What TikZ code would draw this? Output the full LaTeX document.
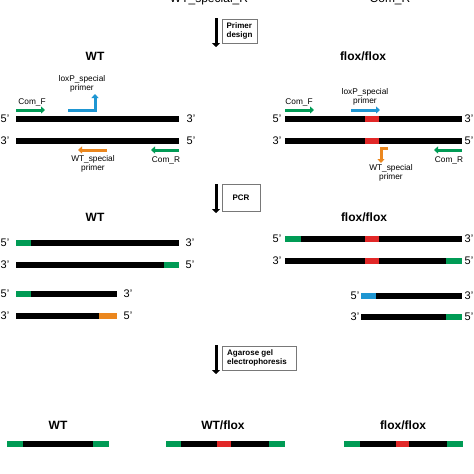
\documentclass[tikz,border=0pt]{standalone}
\usepackage{fontspec}
\setmainfont{Liberation Sans}
\usetikzlibrary{arrows.meta}
\definecolor{pgreen}{RGB}{0,155,85}
\definecolor{pred}{RGB}{225,40,40}
\definecolor{pblue}{RGB}{30,150,210}
\definecolor{porange}{RGB}{235,135,30}
\definecolor{boxgray}{RGB}{120,120,120}
\tikzset{
  bar/.style={line width=6pt, black},
  seg/.style={line width=6pt, #1},
  primer/.style={line width=3pt, #1, -{Triangle[length=4pt,width=7pt]}},
  primerL/.style={line width=3pt, #1, -{Triangle[length=4pt,width=7pt]}, rounded corners=0pt},
  end/.style={font=\fontsize{11}{12}\selectfont, inner sep=0pt},
  lab/.style={font=\fontsize{8.3}{8.8}\selectfont, inner sep=0pt, align=center},
  title/.style={font=\fontsize{12}{13}\selectfont\bfseries, inner sep=0pt},
  stepbox/.style={draw=boxgray, line width=0.8pt, font=\fontsize{8}{9}\selectfont\bfseries, align=left, inner sep=0pt, anchor=north west},
  procarrow/.style={line width=3pt, black, -{Triangle[length=4pt,width=8pt]}},
  cut/.style={font=\fontsize{12}{13}\selectfont, inner sep=0pt, anchor=base}
}
\begin{document}
\begin{tikzpicture}[x=1pt,y=-1pt]
\useasboundingbox (0,0) rectangle (474,474);
\fill[white] (0,0) rectangle (474,474);
% cut off top labels
\node[cut] (cutA) at (209,2.5) {WT\_special\_R};
\node[cut] (cutB) at (390,2.5) {Com\_R};
% ===== Primer design step =====
\coordinate (pa1) at (216,18); \coordinate (pa2) at (216,47);
\draw[procarrow] (pa1) -- (pa2);
\draw[boxgray, line width=0.8pt] (222,19) rectangle (257,43);
\node[font=\fontsize{8}{9}\selectfont\bfseries, align=left, inner sep=0pt] (pdtext) at (239.5,31) {Primer\\design};
% titles
\node[title] (t1) at (95,56) {WT};
\node[title] (t2) at (363,56) {flox/flox};
% ---- WT template
\coordinate (w1a) at (16,119); \coordinate (w1b) at (179,119);
\coordinate (w2a) at (16,141); \coordinate (w2b) at (179,141);
\draw[bar] (w1a) -- (w1b);
\draw[bar] (w2a) -- (w2b);
\node[end] (e1) at (5,119) {5'};
\node[end] (e2) at (191,119) {3'};
\node[end] (e3) at (5,141) {3'};
\node[end] (e4) at (191,141) {5'};
\coordinate (cf1) at (16,110); \coordinate (cf2) at (45,110);
\draw[primer=pgreen] (cf1) -- (cf2);
\coordinate (lp1) at (68,110); \coordinate (lp2) at (95,110); \coordinate (lp3) at (95,94);
\draw[primer=pblue] (lp1) -- (lp2) -- (lp3);
\coordinate (wp1) at (107,150); \coordinate (wp2) at (78,150);
\draw[primer=porange] (wp1) -- (wp2);
\coordinate (cr1) at (179,150); \coordinate (cr2) at (151,150);
\draw[primer=pgreen] (cr1) -- (cr2);
\node[lab] (l1) at (32,102) {Com\_F};
\node[lab] (l2) at (82,84) {loxP\_special\\primer};
\node[lab] (l3) at (93,164) {WT\_special\\primer};
\node[lab] (l4) at (166,160) {Com\_R};
% ---- flox template
\coordinate (f1a) at (285,119); \coordinate (f1b) at (462,119);
\coordinate (f2a) at (285,141); \coordinate (f2b) at (462,141);
\draw[bar] (f1a) -- (f1b);
\draw[bar] (f2a) -- (f2b);
\draw[seg=pred] (365,119) -- (379,119);
\draw[seg=pred] (365,141) -- (379,141);
\node[end] (e5) at (277,119) {5'};
\node[end] (e6) at (469,119) {3'};
\node[end] (e7) at (277,141) {3'};
\node[end] (e8) at (469,141) {5'};
\coordinate (fcf1) at (285,110); \coordinate (fcf2) at (314,110);
\draw[primer=pgreen] (fcf1) -- (fcf2);
\coordinate (flp1) at (351,110); \coordinate (flp2) at (380,110);
\draw[primer=pblue] (flp1) -- (flp2);
\coordinate (fwp1) at (388,148); \coordinate (fwp2) at (381,148); \coordinate (fwp3) at (381,163);
\draw[primer=porange] (fwp1) -- (fwp2) -- (fwp3);
\coordinate (fcr1) at (462,150); \coordinate (fcr2) at (434,150);
\draw[primer=pgreen] (fcr1) -- (fcr2);
\node[lab] (l5) at (299,102) {Com\_F};
\node[lab] (l6) at (365,97) {loxP\_special\\primer};
\node[lab] (l7) at (391,173) {WT\_special\\primer};
\node[lab] (l8) at (449,160) {Com\_R};
% ===== PCR step =====
\coordinate (pb1) at (216,184); \coordinate (pb2) at (216,213);
\draw[procarrow] (pb1) -- (pb2);
\draw[boxgray, line width=0.8pt] (222,184) rectangle (260,211);
\node[font=\fontsize{8}{9}\selectfont\bfseries, inner sep=0pt] (pcrtext) at (241,197.5) {PCR};
\node[title] (t3) at (95,217) {WT};
\node[title] (t4) at (364,217) {flox/flox};
% WT products
\draw[bar] (16,243) -- (179,243); \draw[seg=pgreen] (16,243) -- (31,243);
\draw[bar] (16,265) -- (179,265); \draw[seg=pgreen] (164,265) -- (179,265);
\draw[bar] (16,294) -- (117,294); \draw[seg=pgreen] (16,294) -- (31,294);
\draw[bar] (16,316) -- (117,316); \draw[seg=porange] (99,316) -- (117,316);
\node[end] (p1) at (5,243) {5'};
\node[end] (p2) at (190,243) {3'};
\node[end] (p3) at (5,265) {3'};
\node[end] (p4) at (190,265) {5'};
\node[end] (p5) at (5,294) {5'};
\node[end] (p6) at (128,294) {3'};
\node[end] (p7) at (5,316) {3'};
\node[end] (p8) at (128,316) {5'};
% flox products
\draw[bar] (285,239) -- (462,239); \draw[seg=pgreen] (285,239) -- (301,239); \draw[seg=pred] (365,239) -- (379,239);
\draw[bar] (285,261) -- (462,261); \draw[seg=pred] (365,261) -- (379,261); \draw[seg=pgreen] (446,261) -- (462,261);
\draw[bar] (361,296) -- (462,296); \draw[seg=pblue] (361,296) -- (376,296);
\draw[bar] (361,317) -- (462,317); \draw[seg=pgreen] (446,317) -- (462,317);
\node[end] (q1) at (277,239) {5'};
\node[end] (q2) at (469,239) {3'};
\node[end] (q3) at (277,261) {3'};
\node[end] (q4) at (469,261) {5'};
\node[end] (q5) at (355,296) {5'};
\node[end] (q6) at (469,296) {3'};
\node[end] (q7) at (355,317) {3'};
\node[end] (q8) at (469,317) {5'};
% ===== Agarose step =====
\coordinate (pc1) at (216,345); \coordinate (pc2) at (216,374);
\draw[procarrow] (pc1) -- (pc2);
\draw[boxgray, line width=0.8pt] (222,346) rectangle (296,370);
\node[font=\fontsize{8}{9}\selectfont\bfseries, align=left, inner sep=0pt, anchor=west] (agtext) at (227,358) {Agarose gel\\electrophoresis};
\node[title] (t5) at (58,425) {WT};
\node[title] (t6) at (223,425) {WT/flox};
\node[title] (t7) at (403,425) {flox/flox};
\draw[bar] (7,444) -- (109,444); \draw[seg=pgreen] (7,444) -- (23,444); \draw[seg=pgreen] (93,444) -- (109,444);
\draw[bar] (166,444) -- (285,444); \draw[seg=pgreen] (166,444) -- (181,444); \draw[seg=pred] (217,444) -- (231,444); \draw[seg=pgreen] (269,444) -- (285,444);
\draw[bar] (344,444) -- (463,444); \draw[seg=pgreen] (344,444) -- (360,444); \draw[seg=pred] (396,444) -- (409,444); \draw[seg=pgreen] (447,444) -- (463,444);
\end{tikzpicture}
\end{document}
